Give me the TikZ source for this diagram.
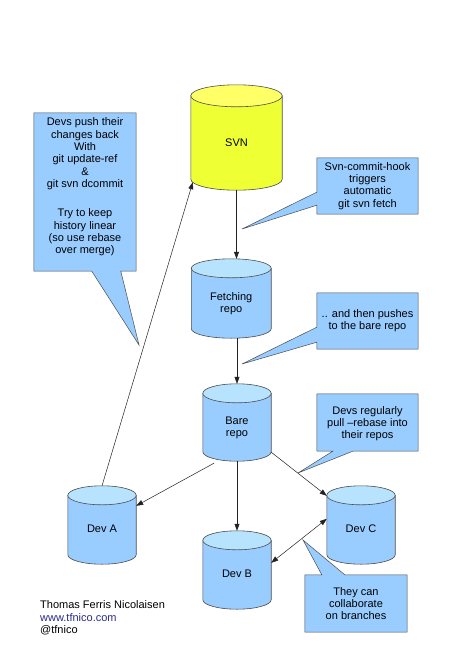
\documentclass[tikz,border=0pt]{standalone}
\usepackage{fontspec}
\setmainfont{Liberation Sans}
\usetikzlibrary{arrows.meta,calc,backgrounds}
\definecolor{side}{HTML}{99CCFF}
\definecolor{topc}{HTML}{B8E3FF}
\definecolor{ysidec}{HTML}{EEFF33}
\definecolor{ytopc}{HTML}{FFFF66}
\definecolor{edge}{HTML}{4D4D4D}
\definecolor{arrowc}{HTML}{222222}
\definecolor{linkc}{HTML}{2B2B8C}
\newcommand\drawcyl[4]{%
  \filldraw[fill=#3, draw=edge, line width=0.6pt] let \p1=(#1.north west), \p2=(#1.south east), \n1={(\x2-\x1)/2} in
    (\x1,\y1-#2) -- (\x1,\y2+#2) arc[start angle=180, end angle=360, x radius=\n1, y radius=#2] -- (\x2,\y1-#2) -- cycle;
  \filldraw[fill=#4, draw=edge, line width=0.6pt] let \p1=(#1.north west), \p2=(#1.south east), \n1={(\x2-\x1)/2} in
    (\x1/2+\x2/2,\y1-#2) ellipse [x radius=\n1, y radius=#2];
}
\begin{document}
\begin{tikzpicture}[x=1pt,y=-1pt,
  every node/.style={font=\fontsize{11}{12.3}\selectfont},
  db/.style={rectangle, inner sep=0pt, draw=none},
  box/.style={rectangle, inner sep=0pt, draw=none},
  conn/.style={draw=arrowc, line width=0.5pt, -{Triangle[length=7pt,width=5pt]}},
  bconn/.style={draw=arrowc, line width=0.5pt, {Triangle[length=7pt,width=5pt]}-{Triangle[length=7pt,width=5pt]}},
  callout/.style={fill=side, draw=edge, line width=0.5pt, line join=miter}
]
\useasboundingbox (0,0) rectangle (474,670);

% cylinders
\node[db, minimum width=91pt, minimum height=105pt, label={[name=svnL,yshift=-5.5pt]center:SVN}] (svn) at (236.5,137.5) {};
\node[db, minimum width=79.5pt, minimum height=79pt, label={[name=fetchL,yshift=-5.5pt,align=center]center:Fetching\\repo}] (fetch) at (231.25,298.5) {};
\node[db, minimum width=68pt, minimum height=77pt, label={[name=bareL,yshift=-5.5pt,align=center]center:Bare\\repo}] (bare) at (237,422.5) {};
\node[db, minimum width=68pt, minimum height=78pt, label={[name=devAL,yshift=-4pt]center:Dev A}] (devA) at (102,525) {};
\node[db, minimum width=68pt, minimum height=78pt, label={[name=devBL,yshift=-4pt]center:Dev B}] (devB) at (237,570) {};
\node[db, minimum width=68pt, minimum height=78pt, label={[name=devCL,yshift=-4pt]center:Dev C}] (devC) at (361,525) {};

% callout boxes
\node[box, minimum width=102pt, minimum height=158pt, label={[name=c1L,yshift=5pt,align=center]center:Devs push their\\changes back\\With\\git update-ref\\\&\\git svn dcommit\\[17pt]Try to keep\\history linear\\(so use rebase\\over merge)}] (c1) at (85,192) {};
\node[box, minimum width=101pt, minimum height=56pt, label={[name=c2L,align=center]center:Svn-commit-hook\\triggers\\automatic\\git svn fetch}] (c2) at (367.5,186) {};
\node[box, minimum width=101pt, minimum height=56pt, label={[name=c3L,align=center]center:.. and then pushes\\to the bare repo}] (c3) at (367.5,321) {};
\node[box, minimum width=101pt, minimum height=57pt, label={[name=c4L,yshift=-1pt,align=center]center:Devs regularly\\pull --rebase into\\their repos}] (c4) at (367.5,422.5) {};
\node[box, minimum width=102pt, minimum height=57pt, label={[name=c5L,align=center]center:They can\\collaborate\\on branches}] (c5) at (356,603.5) {};

\coordinate (t1) at (139,345);
\coordinate (t2) at (242,229);
\coordinate (t3) at (242,364);
\coordinate (t4) at (298,473);
\coordinate (t5) at (303,540);

\node[anchor=west, align=left, inner sep=0pt] (author) at (40,618) {Thomas Ferris Nicolaisen\\\textcolor{linkc}{www.tfnico.com}\\@tfnico};

\begin{pgfonlayer}{background}
  \fill[white] (0,0) rectangle (474,670);
  \drawcyl{svn}{11pt}{ysidec}{ytopc}
  \drawcyl{fetch}{9.5pt}{side}{topc}
  \drawcyl{bare}{9.5pt}{side}{topc}
  \drawcyl{devA}{9.5pt}{side}{topc}
  \drawcyl{devB}{9.5pt}{side}{topc}
  \drawcyl{devC}{9.5pt}{side}{topc}
  \path[callout] (c1.north west) -- (c1.north east) -- (c1.south east) -- ([xshift=87pt]c1.south west) -- (t1) -- ([xshift=58pt]c1.south west) -- (c1.south west) -- cycle;
  \path[callout] (c2.north west) -- (c2.north east) -- (c2.south east) -- (c2.south west) -- ([yshift=9pt]c2.south west) -- (t2) -- ([yshift=22pt]c2.south west) -- cycle;
  \path[callout] (c3.north west) -- (c3.north east) -- (c3.south east) -- (c3.south west) -- ([yshift=7pt]c3.south west) -- (t3) -- ([yshift=22pt]c3.south west) -- cycle;
  \path[callout] (c4.north west) -- (c4.north east) -- (c4.south east) -- ([xshift=36pt]c4.south west) -- (t4) -- ([xshift=16pt]c4.south west) -- (c4.south west) -- cycle;
  \path[callout] (c5.south west) -- (c5.south east) -- (c5.north east) -- ([xshift=40pt]c5.north west) -- (t5) -- ([xshift=17pt]c5.north west) -- (c5.north west) -- cycle;
\end{pgfonlayer}

% connectors
\draw[conn] (svn.south) -- (svn.south |- fetch.north);
\draw[conn] (fetch.south -| bare.north) -- (bare.north);
\draw[conn] ([xshift=-23pt,yshift=-2pt]bare.south) -- ([yshift=-20pt]devA.north east);
\draw[conn] (bare.south) -- (devB.north);
\draw[conn] ([yshift=9pt]bare.south east) -- ([yshift=-10pt]devC.north west);
\draw[bconn] ([yshift=-32pt]devB.north east) -- ([yshift=-33pt]devC.north west);
\draw[conn] (devA.north) -- ([xshift=2pt,yshift=8pt]svn.south west);
\end{tikzpicture}
\end{document}
